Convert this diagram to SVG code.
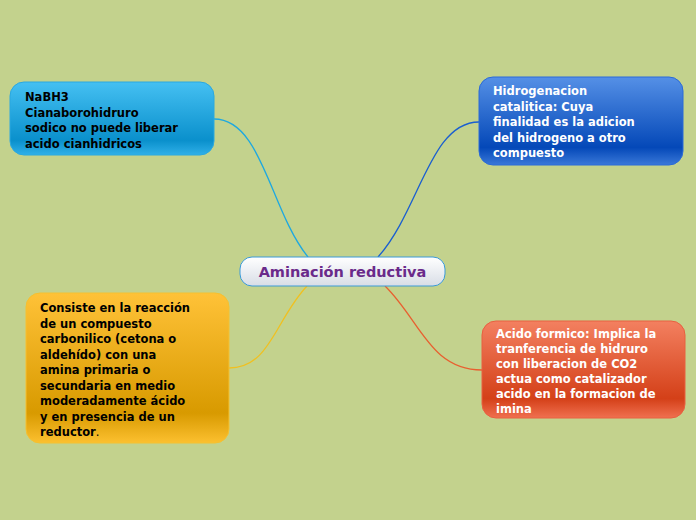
<svg xmlns="http://www.w3.org/2000/svg" width="696" height="520" viewBox="0 0 696 520">
<defs>
<linearGradient id="gb" x1="0" y1="0" x2="0" y2="1"><stop offset="0" stop-color="#45c0f2"/><stop offset="0.8" stop-color="#0a90cc"/><stop offset="1" stop-color="#30b0e8"/></linearGradient>
<linearGradient id="gd" x1="0" y1="0" x2="0" y2="1"><stop offset="0" stop-color="#5590e6"/><stop offset="0.8" stop-color="#0448b8"/><stop offset="1" stop-color="#3a78d8"/></linearGradient>
<linearGradient id="gy" x1="0" y1="0" x2="0" y2="1"><stop offset="0" stop-color="#ffc238"/><stop offset="0.8" stop-color="#d89a00"/><stop offset="1" stop-color="#fcc030"/></linearGradient>
<linearGradient id="go" x1="0" y1="0" x2="0" y2="1"><stop offset="0" stop-color="#f38060"/><stop offset="0.8" stop-color="#d44018"/><stop offset="1" stop-color="#f07050"/></linearGradient>
<linearGradient id="gc" x1="0" y1="0" x2="0" y2="1"><stop offset="0" stop-color="#ffffff"/><stop offset="1" stop-color="#d8dde6"/></linearGradient>
</defs>
<style>
.t{font-family:"DejaVu Sans",Verdana,sans-serif;font-weight:bold;font-size:11.5px}
.w{fill:#fff}.k{fill:#000}
.c{fill:none;stroke-width:1.3}
</style>
<rect width="696" height="520" fill="#c3d28d"/>
<g id="connectors">
<path class="c" stroke="#1ea8e0" d="M308,257 C270,210 262,119 214,119"/>
<path class="c" stroke="#1a5fd0" d="M378,257 C420,210 430,122 479,122"/>
<path class="c" stroke="#f0c020" d="M307,286 C275,320 270,368 229,368"/>
<path class="c" stroke="#e86030" d="M385,286 C420,320 430,370 482,370"/>
</g>
<g id="n1"><rect x="10" y="82" width="204" height="73" rx="14" fill="url(#gb)" stroke="#2aa8e0"/>
<text class="t k" x="25"><tspan x="25" y="101">NaBH3</tspan><tspan x="25" y="116.5">Cianaborohidruro</tspan><tspan x="25" y="132">sodico no puede liberar</tspan><tspan x="25" y="147.5">acido cianhidricos</tspan></text></g>
<g id="n2"><rect x="479" y="77" width="204" height="88" rx="14" fill="url(#gd)" stroke="#2a6ad8"/>
<text class="t w"><tspan x="493" y="95">Hidrogenacion</tspan><tspan x="493" y="110.5">catalitica: Cuya</tspan><tspan x="493" y="126">finalidad es la adicion</tspan><tspan x="493" y="141.5">del hidrogeno a otro</tspan><tspan x="493" y="157">compuesto</tspan></text></g>
<g id="center"><rect x="240" y="257" width="205" height="29" rx="12" fill="url(#gc)" stroke="#3a9ad8"/>
<text x="342.5" y="277" text-anchor="middle" style="font-family:'DejaVu Sans',sans-serif;font-weight:bold;font-size:14.5px;fill:#6a2a8a">Aminación reductiva</text></g>
<g id="n3"><rect x="26" y="293" width="203" height="150" rx="14" fill="url(#gy)" stroke="#f5c030"/>
<text class="t k"><tspan x="40" y="312">Consiste en la reacción</tspan><tspan x="40" y="328">de un compuesto</tspan><tspan x="40" y="343">carbonilico (cetona o</tspan><tspan x="40" y="359">aldehído) con una</tspan><tspan x="40" y="374">amina primaria o</tspan><tspan x="40" y="390">secundaria en medio</tspan><tspan x="40" y="405">moderadamente ácido</tspan><tspan x="40" y="421">y en presencia de un</tspan><tspan x="40" y="436">reductor<tspan font-weight="normal">.</tspan></tspan></text></g>
<g id="n4"><rect x="482" y="321" width="203" height="97" rx="14" fill="url(#go)" stroke="#e86040"/>
<text class="t w"><tspan x="496" y="338">Acido formico: Implica la</tspan><tspan x="496" y="353">tranferencia de hidruro</tspan><tspan x="496" y="368">con liberacion de CO2</tspan><tspan x="496" y="383">actua como catalizador</tspan><tspan x="496" y="398">acido en la formacion de</tspan><tspan x="496" y="413">imina</tspan></text></g>
</svg>
